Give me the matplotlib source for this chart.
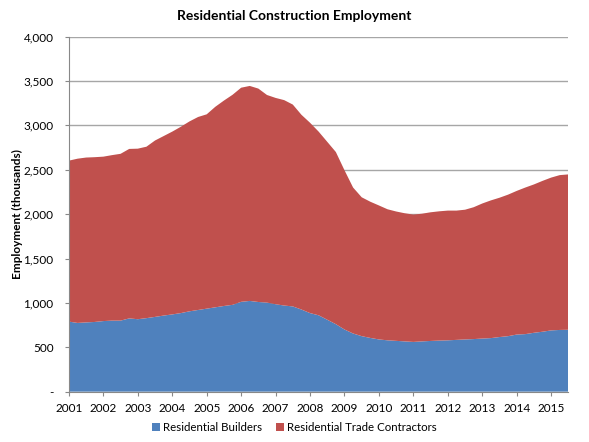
import numpy as np
import matplotlib
matplotlib.use("Agg")
from matplotlib import pyplot as plt
from matplotlib.ticker import FuncFormatter

# quarterly readings, Jan 2001 .. Jul 2015 (thousands)
builders = [789, 774, 780, 785, 795, 800, 800, 825, 816, 828, 842, 857,
            870, 885, 905, 920, 935, 950, 965, 978, 1012, 1022, 1010, 1003,
            985, 970, 960, 925, 885, 860, 810, 760, 700, 655, 625, 605,
            588, 578, 572, 566, 560, 566, 571, 575, 578, 583, 588, 592,
            598, 603, 615, 625, 643, 648, 663, 675, 690, 695, 697]
contractors = [1814, 1851, 1858, 1857, 1853, 1865, 1880, 1910, 1922, 1932, 1988, 2023,
               2060, 2100, 2140, 2175, 2190, 2260, 2315, 2367, 2413, 2423, 2405, 2340,
               2325, 2315, 2275, 2195, 2145, 2070, 2005, 1940, 1795, 1645, 1565, 1535,
               1510, 1477, 1458, 1444, 1435, 1439, 1450, 1457, 1462, 1457, 1462, 1486,
               1522, 1552, 1570, 1595, 1619, 1652, 1672, 1700, 1722, 1745, 1751]
year_ticks = list(range(2001, 2016))
series_names = ["Residential Builders", "Residential Trade Contractors"]

t = 2001 + 0.25 * np.arange(len(builders))

plt.rcParams['font.family'] = ['Lato', 'DejaVu Sans']

fig = plt.figure(figsize=(5.89, 4.42), dpi=100)
ax = fig.add_axes([0.117, 0.114, 0.848, 0.803])

ax.stackplot(t, builders, contractors, colors=["#4F81BD", "#C0504D"],
             labels=series_names, linewidth=0)

ax.set_xlim(2001, t[-1])
ax.set_ylim(0, 4000)
ax.set_yticks(np.arange(0, 4001, 500))
ax.yaxis.set_major_formatter(FuncFormatter(lambda v, p: "-" if v == 0 else f"{int(v):,}"))
ax.set_xticks(year_ticks)
ax.set_xticklabels([str(y) for y in year_ticks])
ax.tick_params(labelsize=8.5, color="#888888", length=3)
ax.tick_params(axis="y", pad=8)
ax.tick_params(axis="x", pad=5)

ax.grid(axis="y", color="#a6a6a6", linewidth=1)
ax.set_axisbelow(True)
for s in ["top", "right"]:
    ax.spines[s].set_visible(False)
for s in ["left", "bottom"]:
    ax.spines[s].set_color("#888888")

fig.text(17 / 589, 1 - 214 / 442, "Employment (thousands)", rotation=90,
         ha="center", va="center", fontsize=8.5, fontweight="bold")
fig.text(0.5, 0.963, "Residential Construction Employment", ha="center", va="center",
         fontsize=10, fontweight="bold")

handles, labels = ax.get_legend_handles_labels()
fig.legend(handles, labels, loc="center", bbox_to_anchor=(0.5, 0.032), ncol=2,
           frameon=False, fontsize=8.3, handlelength=0.65, handleheight=0.65,
           handletextpad=0.3, columnspacing=1.2)

plt.savefig("out.png", dpi=100)
